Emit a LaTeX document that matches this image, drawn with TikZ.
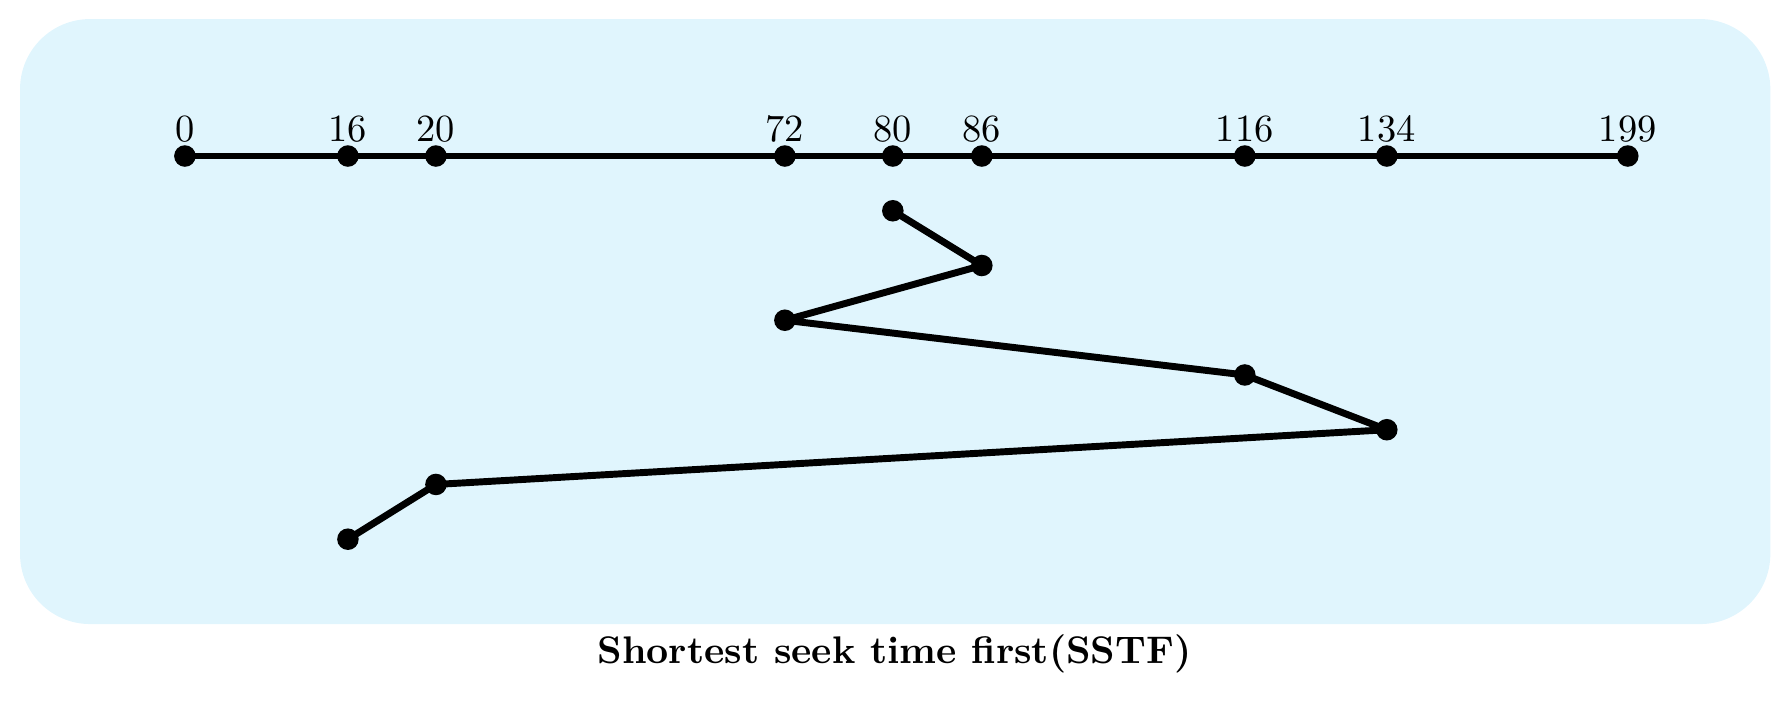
\documentclass[tikz,border=0pt]{standalone}
\usetikzlibrary{positioning,backgrounds}
\definecolor{panelblue}{RGB}{224,245,253}
\tikzset{
	dot/.style={circle,fill=black,inner sep=0pt,minimum size=5.6pt},
	tick/.style={anchor=south},
}
\begin{document}
\begin{tikzpicture}
		\useasboundingbox (0,0) rectangle (16.35,-6.448);
		
		% cylinders on the axis
		\node[dot] (a0) at (1.689,-1.425) {};
		\node[dot] (a16) at (3.178,-1.425) {};
		\node[dot] (a20) at (3.982,-1.425) {};
		\node[dot] (a72) at (7.169,-1.425) {};
		\node[dot] (a80) at (8.155,-1.425) {};
		\node[dot] (a86) at (8.968,-1.425) {};
		\node[dot] (a116) at (11.37,-1.425) {};
		\node[dot] (a134) at (12.667,-1.425) {};
		\node[dot] (a199) at (14.868,-1.425) {};
		\node[tick] (l0) at (a0.center) {0};
		\node[tick] (l16) at (a16.center) {16};
		\node[tick] (l20) at (a20.center) {20};
		\node[tick] (l72) at (a72.center) {72};
		\node[tick] (l80) at (a80.center) {80};
		\node[tick] (l86) at (a86.center) {86};
		\node[tick] (l116) at (a116.center) {116};
		\node[tick] (l134) at (a134.center) {134};
		\node[tick] (l199) at (a199.center) {199};
		
		% order of service
		\node[dot] (p1) at (8.155,-1.925) {};
		\node[dot] (p2) at (8.968,-2.425) {};
		\node[dot] (p3) at (7.169,-2.925) {};
		\node[dot] (p4) at (11.37,-3.425) {};
		\node[dot] (p5) at (12.667,-3.925) {};
		\node[dot] (p6) at (3.982,-4.425) {};
		\node[dot] (p7) at (3.178,-4.925) {};
		
		\node (cap) at (8.17,-5.97) {\bfseries Shortest seek time first(SSTF)};
		
		\begin{scope}[on background layer]
		\fill[panelblue,rounded corners=0.64cm] (0.183,-0.174) rectangle (16.17,-5.70);
		\draw[line width=1.4pt] (a0.center)--(a16.center)--(a20.center)--(a72.center)--(a80.center)--(a86.center)--(a116.center)--(a134.center)--(a199.center);
		\draw[line width=1.8pt,line join=round] (p1.center)--(p2.center)--(p3.center)--(p4.center)--(p5.center)--(p6.center)--(p7.center);
		\end{scope}
	\end{tikzpicture}
\end{document}
